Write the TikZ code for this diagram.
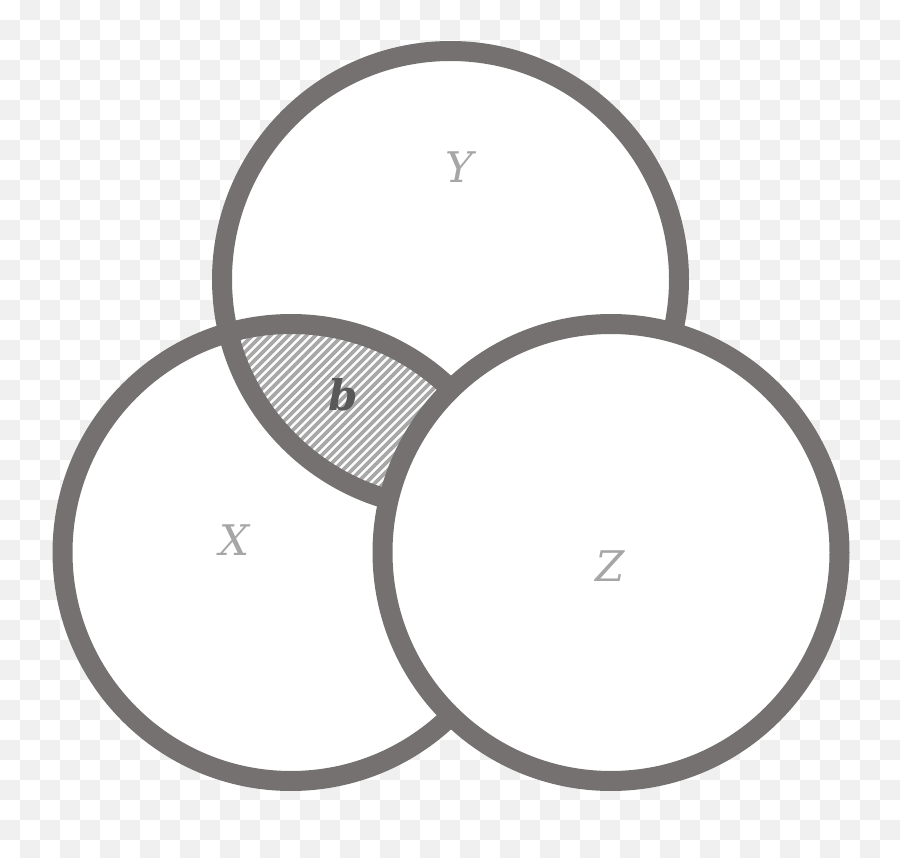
\documentclass[tikz,border=0pt]{standalone}
\usepackage{fontspec}
\usepackage{xcolor}
\usepackage{tikz}
\newfontfamily\labelfont{DejaVu Serif}

\definecolor{ringgrey}{RGB}{117,113,113}
\definecolor{checkgrey}{RGB}{240,240,240}
\definecolor{labelgrey}{RGB}{166,166,166}
\definecolor{hatchgrey}{RGB}{168,168,168}
\definecolor{darkgrey}{RGB}{89,89,89}

\tikzset{
  ring/.style={draw=ringgrey, line width=0.4cm},
  setlabel/.style={text=labelgrey, font=\labelfont\fontsize{24}{28}\selectfont\itshape},
}

\begin{document}
\begin{tikzpicture}[x=0.02cm, y=-0.02cm]
        \useasboundingbox (0,0) rectangle (900,858);
        \clip (0,0) rectangle (900,858);

        % checkered background
        \foreach \i in {0,...,44}
          \foreach \j in {0,...,42}{
            \pgfmathtruncatemacro{\cell}{mod(\i+\j,2)}
            \ifnum\cell=1 \fill[checkgrey] (20*\i,20*\j) rectangle ++(20,20); \fi
          }

        \coordinate (cx) at (291,552.5);
        \coordinate (cy) at (450.5,279.5);
        \coordinate (cz) at (611,552.5);

        \fill[white] (cx) circle[radius=228.5];
        \fill[white] (cy) circle[radius=228.5];

        % hatched part b
        \begin{scope}
          \clip (cx) circle[radius=228.5];
          \clip (cy) circle[radius=228.5];
          \foreach \c in {480,489,...,1000}
            \draw[hatchgrey, line width=0.075cm] (\c-150,150) -- (\c-650,650);
        \end{scope}

        \draw[ring] (cx) circle[radius=228.5];
        \draw[ring] (cy) circle[radius=228.5];
        \filldraw[ring, fill=white] (cz) circle[radius=228.5];

        \node[setlabel] (X) at (235,540) {X};
        \node[setlabel] (Y) at (459,167) {Y};
        \node[setlabel] (Z) at (610,566) {Z};
        \node[text=darkgrey, font=\labelfont\fontsize{24}{28}\selectfont\bfseries\itshape] (b) at (343,395) {b};
    \end{tikzpicture}
\end{document}
